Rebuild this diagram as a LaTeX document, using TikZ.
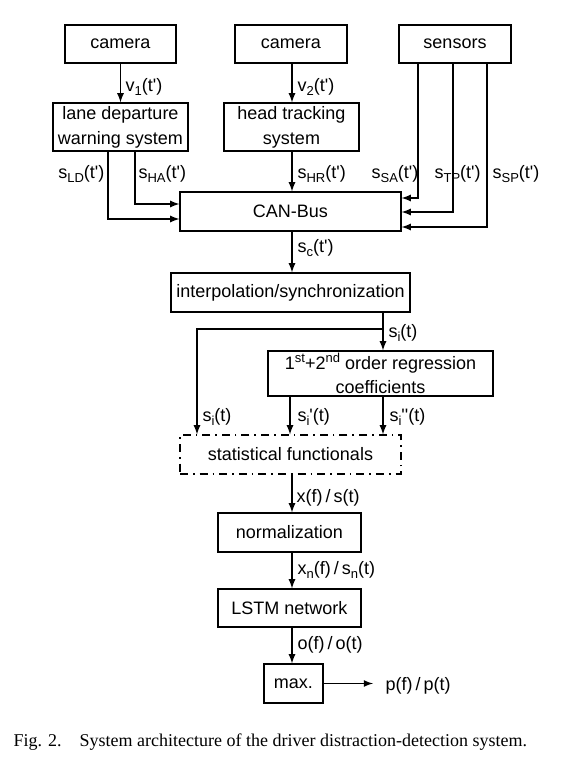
\documentclass[tikz,border=0pt]{standalone}
\usepackage{fontspec}
\setmainfont{Liberation Sans}[Ligatures=TeXOff]
\newfontfamily\capfont{Liberation Serif}
\usetikzlibrary{positioning,arrows}
\newcommand\sbs[1]{\raisebox{-0.45ex}{\fontsize{6.5}{7}\selectfont#1}}
\newcommand\sps[1]{\raisebox{0.75ex}{\fontsize{6.5}{7}\selectfont#1}}

\begin{document}
\begin{tikzpicture}[x=0.5pt,y=-0.5pt,>=latex,line width=0.6pt,
        every node/.style={font=\fontsize{9}{12.5}\selectfont},
        box/.style={draw,inner sep=0pt,align=center,minimum height=19pt},
        lbl/.style={inner sep=1pt},
        dashdot/.style={dash pattern=on 4pt off 2.5pt on 0.8pt off 2.5pt}]
        \useasboundingbox (0,0) rectangle (576,768);
        \node[box,minimum width=55.5pt] (cam1) at (120.5,44) {camera};
        \node[box,minimum width=56pt] (cam2) at (291,44) {camera};
        \node[box,minimum width=56pt] (sens) at (455,44) {sensors};
        \node[box,minimum width=67.5pt,minimum height=24pt] (lane) at (120.5,127) {lane departure\\warning system};
        \node[box,minimum width=67.5pt,minimum height=24pt] (head) at (291.5,127) {head tracking\\system};
        \node[box,minimum width=110.5pt,minimum height=19.5pt] (can) at (290.5,211.5) {CAN-Bus};
        \node[box,minimum width=119.5pt,minimum height=19.5pt] (interp) at (290.5,292.5) {interpolation/synchronization};
        \node[box,minimum width=112.5pt,minimum height=22.5pt,font=\fontsize{9}{12}\selectfont] (regr) at (380.5,373.5) {1\sps{st}+2\sps{nd} order regression\\coefficients};
        \node[box,dashdot,minimum width=110.5pt,minimum height=19.5pt] (stat) at (290.5,454.5) {statistical functionals};
        \node[box,minimum width=71.5pt,minimum height=19.5pt] (norm) at (289.5,532.5) {normalization};
        \node[box,minimum width=71.5pt,minimum height=19pt] (lstm) at (289.5,608) {LSTM network};
        \node[box,minimum width=29.5pt,minimum height=19.5pt] (max) at (293.5,683.5) {max.};
        \coordinate (mid) at (292,0);
        \coordinate (ld) at (108,219);
        \coordinate (ha) at (135,204);
        \coordinate (sa) at (418,198);
        \coordinate (tp) at (453,212);
        \coordinate (sp) at (487,227);
        \coordinate (si) at (383,329);
        \coordinate (sl) at (197,329);
        \coordinate (d1) at (290,0);
        \coordinate (pe) at (373,0);
        \draw[->] (cam1) -- (lane);
        \draw[->] (cam2.south -| mid) -- (head.north -| mid);
        \draw[->] (lane.south -| ld) |- (can.west |- ld);
        \draw[->] (lane.south -| ha) |- (can.west |- ha);
        \draw[->] (head.south -| mid) -- (can.north -| mid);
        \draw[->] (sens.south -| sa) |- (can.east |- sa);
        \draw[->] (sens.south -| tp) |- (can.east |- tp);
        \draw[->] (sens.south -| sp) |- (can.east |- sp);
        \draw[->] (can.south -| mid) -- (interp.north -| mid);
        \draw[->] (interp.south -| si) -- (regr.north -| si);
        \draw[->] (si) -- (sl) -- (stat.north -| sl);
        \draw[->] (regr.south -| d1) -- (stat.north -| d1);
        \draw[->] (regr.south -| si) -- (stat.north -| si);
        \draw[->] (stat.south -| mid) -- (norm.north -| mid);
        \draw[->] (norm.south -| mid) -- (lstm.north -| mid);
        \draw[->] (lstm.south -| mid) -- (max.north -| mid);
        \draw[->] (max.east) -- (max.east -| pe);
        \node[lbl,anchor=west] (v1) at (123,87) {v\sbs{1}(t')};
        \node[lbl,anchor=west] (v2) at (295,87) {v\sbs{2}(t')};
        \node[lbl,anchor=east] (sld) at (107,174) {s\sbs{LD}(t')};
        \node[lbl,anchor=west] (sha) at (136,174) {s\sbs{HA}(t')};
        \node[lbl,anchor=west] (shr) at (295,174) {s\sbs{HR}(t')};
        \node[lbl,anchor=east] (ssa) at (421,174) {s\sbs{SA}(t')};
        \node[lbl,anchor=west] (stp) at (432,174) {s\sbs{TP}(t')};
        \node[lbl,anchor=west] (ssp) at (490,174) {s\sbs{SP}(t')};
        \node[lbl,anchor=west] (sc) at (295,248) {s\sbs{c}(t')};
        \node[lbl,anchor=west] (si1) at (386,333) {s\sbs{i}(t)};
        \node[lbl,anchor=west] (si2) at (200,417) {s\sbs{i}(t)};
        \node[lbl,anchor=west] (si3) at (295,417) {s\sbs{i}'(t)};
        \node[lbl,anchor=west] (si4) at (387,417) {s\sbs{i}''(t)};
        \node[lbl,anchor=west] (xf) at (294,498) {x(f)\,/\,s(t)};
        \node[lbl,anchor=west] (xn) at (295,570) {x\sbs{n}(f)\,/\,s\sbs{n}(t)};
        \node[lbl,anchor=west] (of) at (295,645) {o(f)\,/\,o(t)};
        \node[lbl,anchor=west] (pout) at (383,686) {p(f)\,/\,p(t)};
        \node[inner sep=0pt,anchor=base west,font=\capfont\fontsize{9}{11}\selectfont] (cap) at (13,746) {Fig. 2.\hspace{9pt}System architecture of the driver distraction-detection system.};
      \end{tikzpicture}
\end{document}
